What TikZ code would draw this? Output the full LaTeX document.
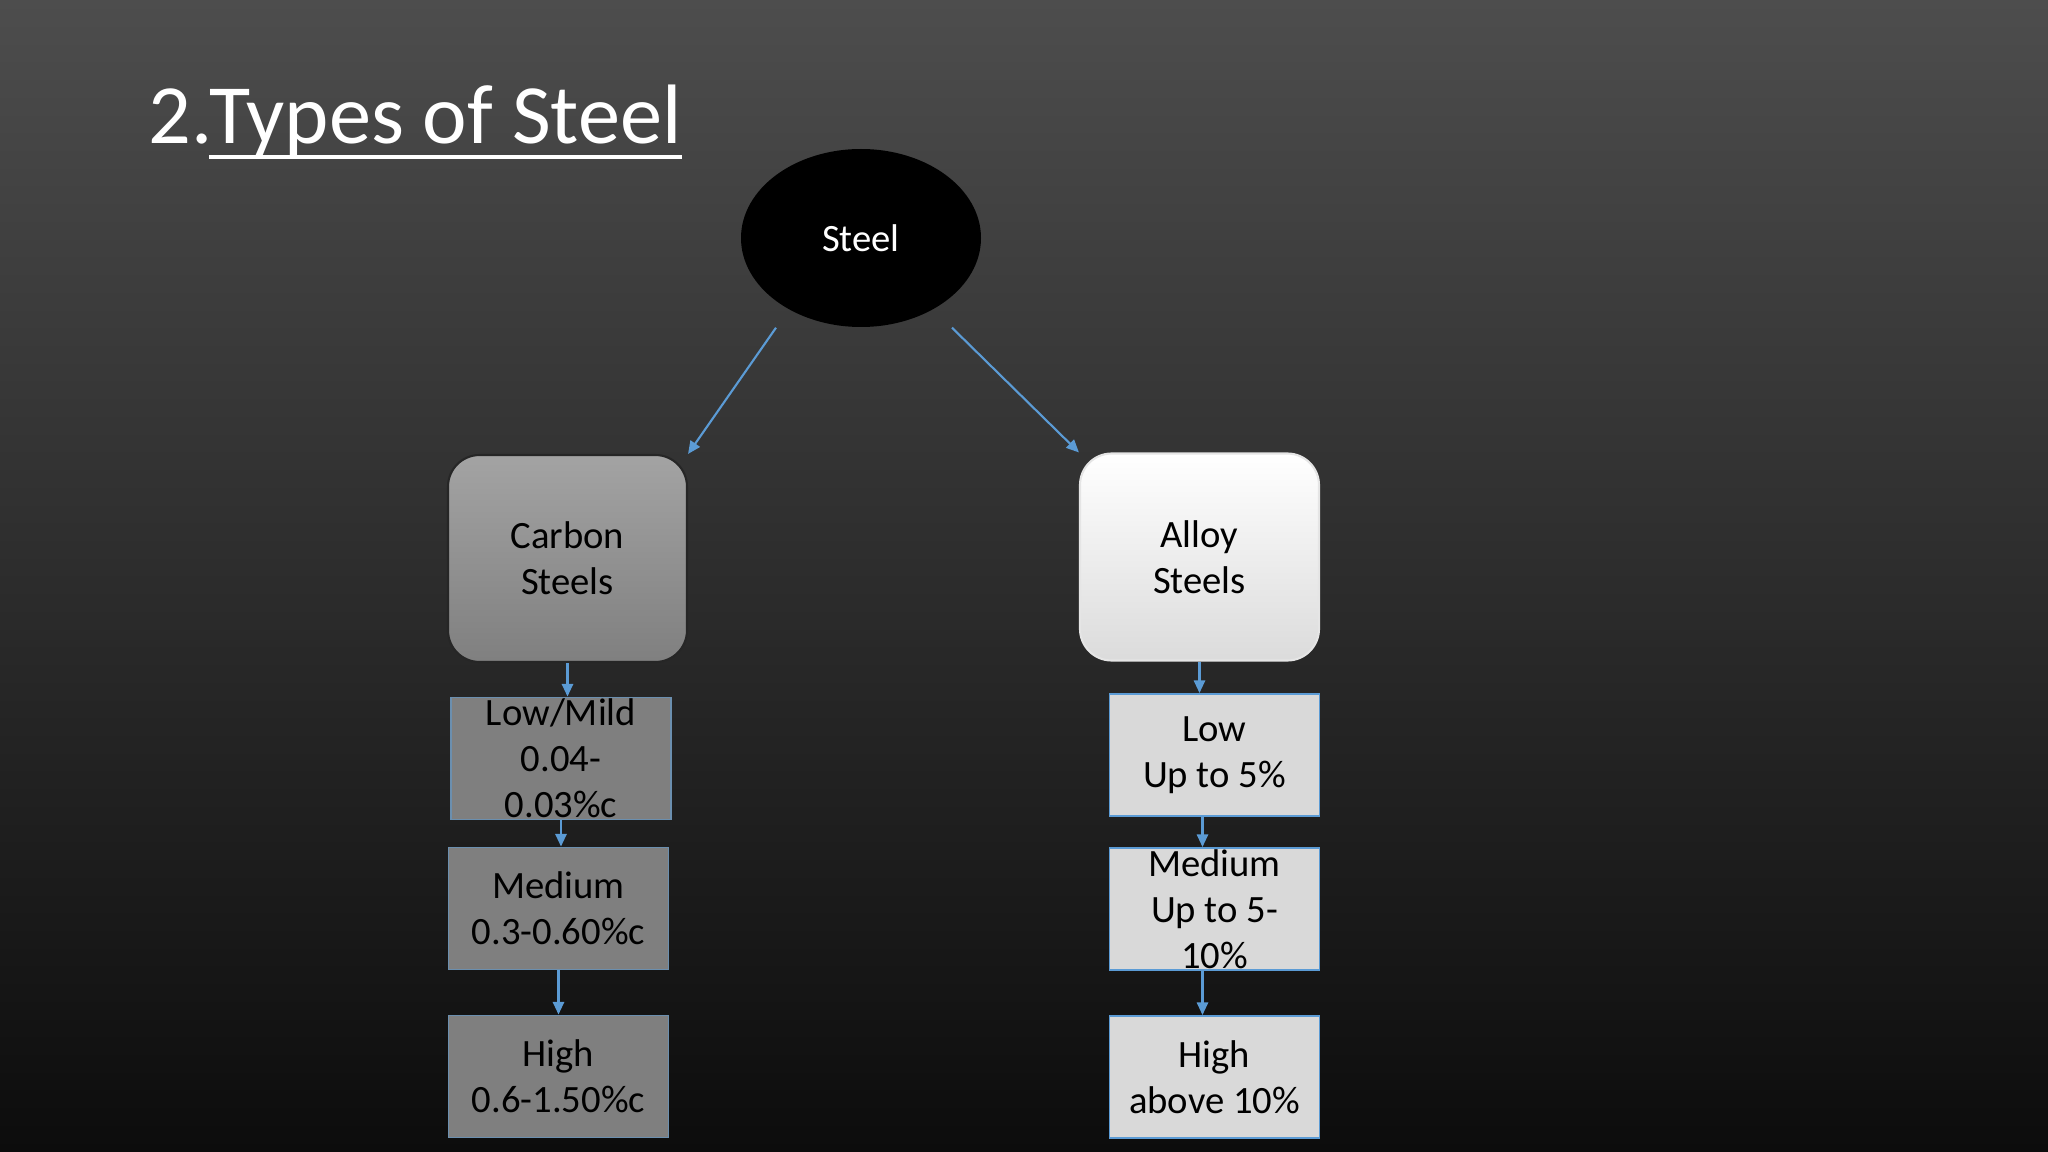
\documentclass[tikz,border=0pt]{standalone}
\usepackage{fontspec}
\setmainfont{Carlito}
\usetikzlibrary{positioning,shapes.geometric,arrows.meta}
\definecolor{bgtop}{HTML}{4D4D4D}
\definecolor{bgmid}{HTML}{2A2A2A}
\definecolor{bgbot}{HTML}{0C0C0C}
\definecolor{accent}{HTML}{5B9BD5}
\definecolor{carbonsub}{HTML}{7F7F7F}
\definecolor{alloysub}{HTML}{D9D9D9}
% underlined title text
\newcommand{\uln}[1]{\setbox0\hbox{#1}\rlap{\rule[-4.3pt]{\wd0}{1.1pt}}\box0}

\begin{document}
\begin{tikzpicture}[
    on grid,>={Triangle[length=3.6pt,width=3.2pt]},
    font=\fontsize{11}{13.1}\selectfont,
    mainbox/.style={draw=black!85,line width=.6pt,rounded corners=9pt,minimum width=2.39cm,minimum height=2.07cm,align=center},
    subbox/.style={draw=accent,line width=.55pt,minimum width=2.2cm,minimum height=1.22cm,inner ysep=-12pt,align=center},
    flow/.style={->,accent,line width=.6pt}
]
    % slide background
    \fill[top color=bgtop,middle color=bgmid,bottom color=bgbot] (0,0) rectangle (20.48,-11.52);
    \node[anchor=base west,inner sep=0,text=white,font=\fontsize{24}{28}\selectfont] (title) at (1.48,-1.44) {2.\kern-1pt\uln{Types of Steel}};
    %Root
    \node[ellipse,fill=black,text=white,minimum width=2.4cm,minimum height=1.78cm,inner sep=0] (steel) at (8.61,-2.38) {Steel};
    \node[mainbox,top color=black!36,bottom color=black!50,below left=3.205cm and 2.935cm of steel] (carbon) {Carbon\\Steels};
    \node[mainbox,draw=white!90!black,top color=white,bottom color=black!14,below right=3.19cm and 3.385cm of steel] (alloy) {Alloy\\Steels};
    \draw[flow] ([xshift=-.85cm]steel.south) -- (carbon.north east);
    \draw[flow] ([xshift=.91cm]steel.south) -- (alloy.north west);
    %Left
    \node[subbox,draw=accent!55!gray,fill=carbonsub,below left=2cm and .065cm of carbon] (c1) {Low/Mild\\0.04-\\0.03\%c};
    \node[subbox,draw=accent!55!gray,fill=carbonsub,below left=1.5cm and .025cm of c1] (c2) {Medium\\0.3-0.60\%c};
    \node[subbox,draw=accent!55!gray,fill=carbonsub,below=1.68cm of c2] (c3) {High\\0.6-1.50\%c};
    \draw[flow] (carbon.south) -- (carbon.south |- c1.north);
    \draw[flow] (c1.south) -- (c1.south |- c2.north);
    \draw[flow] (c2.south) -- (c3.north);
    %Right
    \node[subbox,fill=alloysub,minimum width=2.1cm,below right=1.98cm and .15cm of alloy] (a1) {Low\\Up to 5\%};
    \node[subbox,fill=alloysub,minimum width=2.1cm,below=1.54cm of a1] (a2) {Medium\\Up to 5-\\10\%};
    \node[subbox,fill=alloysub,minimum width=2.1cm,below=1.68cm of a2] (a3) {High\\above 10\%};
    \draw[flow] (alloy.south) -- (alloy.south |- a1.north);
    \draw[flow] ([xshift=.03cm]alloy.south |- a1.south) -- ([xshift=.03cm]alloy.south |- a2.north);
    \draw[flow] ([xshift=.03cm]alloy.south |- a2.south) -- ([xshift=.03cm]alloy.south |- a3.north);
\end{tikzpicture}
\end{document}
